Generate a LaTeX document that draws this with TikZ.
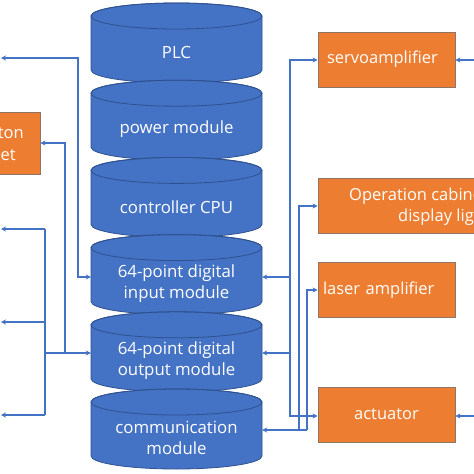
\documentclass[tikz,border=0pt]{standalone}
\usepackage{fontspec}
\setmainfont{Open Sans}
\usetikzlibrary{arrows.meta}
\definecolor{cylblue}{HTML}{4472C4}
\definecolor{cyledge}{HTML}{2F528F}
\definecolor{orng}{HTML}{ED7D31}
\definecolor{orngedge}{HTML}{8F7565}
\definecolor{linkblue}{HTML}{4472C4}
\newcommand\drawcyl[1]{%
  \filldraw[cylshape] (91,#1+13) -- (91,#1+67)
    arc[start angle=180,end angle=0,x radius=85.5,y radius=13]
    -- (262,#1+13)
    arc[start angle=0,end angle=-180,x radius=85.5,y radius=13] -- cycle;
  \draw[cylshape,fill=none] (176.5,#1+13) ellipse[x radius=85.5,y radius=13];}
\tikzset{
  cylshape/.style={fill=cylblue,draw=cyledge,line width=0.8pt},
  cyltext/.style={text=white,font=\fontsize{16.8}{21.5}\selectfont,align=center,
    minimum width=171pt,minimum height=60pt,inner sep=0pt},
  obox/.style={fill=orng,draw=orngedge,line width=0.8pt,text=white,
    font=\fontsize{16.5}{21.5}\selectfont,minimum height=55pt,inner sep=0pt},
  otext/.style={text=white,font=\fontsize{16.5}{21.5}\selectfont,inner sep=0pt},
  conn/.style={draw=linkblue,line width=1.5pt,
    arrows={-Stealth[length=5pt,width=5pt]}},
  both/.style={draw=linkblue,line width=1.5pt,
    arrows={Stealth[length=5pt,width=5pt]-Stealth[length=5pt,width=5pt]}},
  plain/.style={draw=linkblue,line width=1.5pt}
}
\begin{document}
\begin{tikzpicture}[x=1pt,y=-1pt]
\useasboundingbox (0,0) rectangle (474,474);
\clip (0,0) rectangle (474,474);
\fill[white] (0,0) rectangle (474,474);
% cylinders
\drawcyl{3}
\drawcyl{80.2}
\drawcyl{157.4}
\drawcyl{234.6}
\drawcyl{311.8}
\drawcyl{389}
\node[cyltext] (c1) at (176.5,52) {PLC};
\node[cyltext] (c2) at (176.5,129.2) {power module};
\node[cyltext] (c3) at (176.5,207.4) {controller CPU};
\node[cyltext] (c4) at (176.5,283.6) {64-point digital\\input module};
\node[cyltext] (c5) at (176.5,360.8) {64-point digital\\output module};
\node[cyltext] (c6) at (176.5,438) {communication\\module};
% orange boxes
\node[obox,minimum width=100pt,minimum height=62pt] (btn) at (-10,143) {};
\node[otext,anchor=east] (btnA) at (24,132) {button};
\node[otext,anchor=east] (btnB) at (16,154) {cabinet};
\node[obox,minimum width=137pt,text width=127pt,align=left,inner xsep=5pt] (servo) at (386.5,59.5) {\hspace*{4pt}servoamplifier};
\node[obox,minimum width=200pt] (op) at (418,205.5) {};
\node[otext,anchor=west] (opA) at (349,196) {Operation cabinet};
\node[otext,anchor=west] (opB) at (398,217) {display light};
\node[obox,minimum width=137pt,text width=127pt,align=left,inner xsep=5pt] (laser) at (386.5,290) {laser amplifier};
\node[obox,minimum width=137pt] (act) at (386.5,414.5) {actuator};
% left connectors
\coordinate (L1) at (1,58);
\coordinate (jA) at (78,58);
\coordinate (jA2) at (78,277);
\draw[both] (L1) -- (jA) -- (jA2) -- (jA2 -| c4.west);
\coordinate (jB) at (65,143);
\coordinate (jB2) at (65,353);
\draw[conn] (jB2) -- (jB) -- (jB -| btn.east);
\coordinate (jC1) at (45,229);
\coordinate (jC2) at (45,322);
\coordinate (jC3) at (45,415);
\coordinate (jC4) at (45,353);
\coordinate (Lc1) at (1,229);
\coordinate (Lc2) at (1,322);
\coordinate (Lc3) at (1,415);
\draw[plain] (jC1) -- (jC3);
\draw[conn] (jC4) -- (jC4 -| c5.west);
\draw[conn] (jC1) -- (Lc1);
\draw[conn] (jC2) -- (Lc2);
\draw[conn] (jC3) -- (Lc3);
% right connectors
\coordinate (r1a) at (290,60);
\coordinate (r1b) at (290,416);
\coordinate (r1c) at (290,277);
\coordinate (r1d) at (290,353);
\draw[both] (r1a -| servo.west) -- (r1a) -- (r1b) -- (r1b -| act.west);
\draw[conn] (r1c) -- (r1c -| c4.east);
\draw[conn] (r1d) -- (r1d -| c5.east);
\coordinate (r2a) at (299,206);
\coordinate (r2b) at (299,430);
\draw[both] (r2a -| op.west) -- (r2a) -- (r2b) -- (r2b -| c6.east);
\coordinate (r3a) at (307,290);
\coordinate (r3b) at (307,430);
\draw[conn] (r3b) -- (r3a) -- (r3a -| laser.west);
\draw[plain] (r2b) -- (r3b);
\coordinate (Rs) at (474,60);
\coordinate (Ra) at (474,416);
\draw[conn] (Rs) -- (Rs -| servo.east);
\draw[conn] (Ra) -- (Ra -| act.east);
\end{tikzpicture}
\end{document}
